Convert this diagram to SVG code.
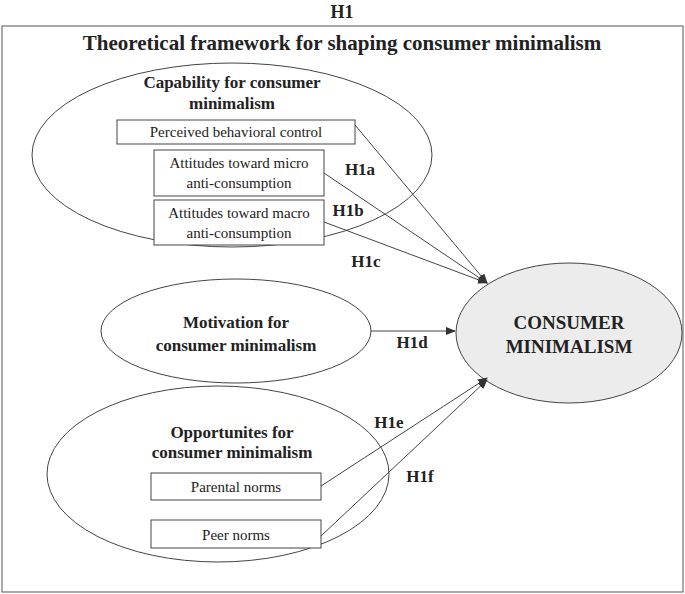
<svg xmlns="http://www.w3.org/2000/svg" width="685" height="594" viewBox="0 0 685 594">
<style>
text{font-family:"Liberation Serif",serif;fill:#222;text-anchor:middle}
.b{font-weight:bold;font-size:17px}
.n{font-size:15px}
.s{fill:#fff;stroke:#444;stroke-width:1}
.l{stroke:#444;stroke-width:1;fill:none;marker-end:url(#a)}
</style>
<defs><marker id="a" markerWidth="10" markerHeight="8" refX="9" refY="4" orient="auto" markerUnits="userSpaceOnUse"><path d="M0,0L10,4L0,8z" fill="#333"/></marker></defs>
<rect x="0" y="0" width="685" height="594" fill="#fff"/>
<text class="b" x="342" y="18" style="font-size:18px">H1</text>
<rect x="2" y="26" width="681" height="566" fill="none" stroke="#555"/>
<text class="b" x="342" y="50" style="font-size:21px">Theoretical framework for shaping consumer minimalism</text>
<g id="capability"><ellipse class="s" cx="232" cy="155" rx="200" ry="92"/>
<text class="b" x="232" y="88">Capability for consumer</text><text class="b" x="232" y="109">minimalism</text></g>
<g id="pbc"><rect class="s" x="117" y="120" width="238" height="24"/><text class="n" x="236" y="137">Perceived behavioral control</text></g>
<g id="micro"><rect class="s" x="154" y="150" width="170" height="46"/><text class="n" x="239" y="168">Attitudes toward micro</text><text class="n" x="239" y="188">anti-consumption</text></g>
<g id="macro"><rect class="s" x="154" y="200" width="170" height="45"/><text class="n" x="239" y="218">Attitudes toward macro</text><text class="n" x="239" y="238">anti-consumption</text></g>
<g id="motivation"><ellipse class="s" cx="236" cy="331" rx="135" ry="52"/><text class="b" x="236" y="328">Motivation for</text><text class="b" x="236" y="351">consumer minimalism</text></g>
<g id="opportunities"><ellipse class="s" cx="218" cy="474" rx="171" ry="88"/><text class="b" x="232" y="438">Opportunites for</text><text class="b" x="232" y="458">consumer minimalism</text></g>
<g id="parental"><rect class="s" x="151" y="473" width="170" height="27"/><text class="n" x="236" y="492">Parental norms</text></g>
<g id="peer"><rect class="s" x="151" y="520" width="170" height="28"/><text class="n" x="236" y="540">Peer norms</text></g>
<g id="cm"><ellipse cx="569" cy="333" rx="113" ry="70" fill="#ececec" stroke="#444"/><text class="b" x="569" y="329" style="font-size:19px">CONSUMER</text><text class="b" x="569" y="353" style="font-size:19px">MINIMALISM</text></g>
<g id="connectors">
<path class="l" d="M355,125L487,283"/><path class="l" d="M324,173L487,283"/><path class="l" d="M324,222L487,283"/>
<path class="l" d="M371,331L455,331"/><path class="l" d="M321,486L487,378"/><path class="l" d="M321,536L487,380"/>
</g>
<g id="labels">
<text class="b" x="360" y="175">H1a</text><text class="b" x="348" y="216">H1b</text><text class="b" x="366" y="267">H1c</text>
<text class="b" x="412" y="348">H1d</text><text class="b" x="389" y="428">H1e</text><text class="b" x="420" y="482">H1f</text>
</g>
</svg>
